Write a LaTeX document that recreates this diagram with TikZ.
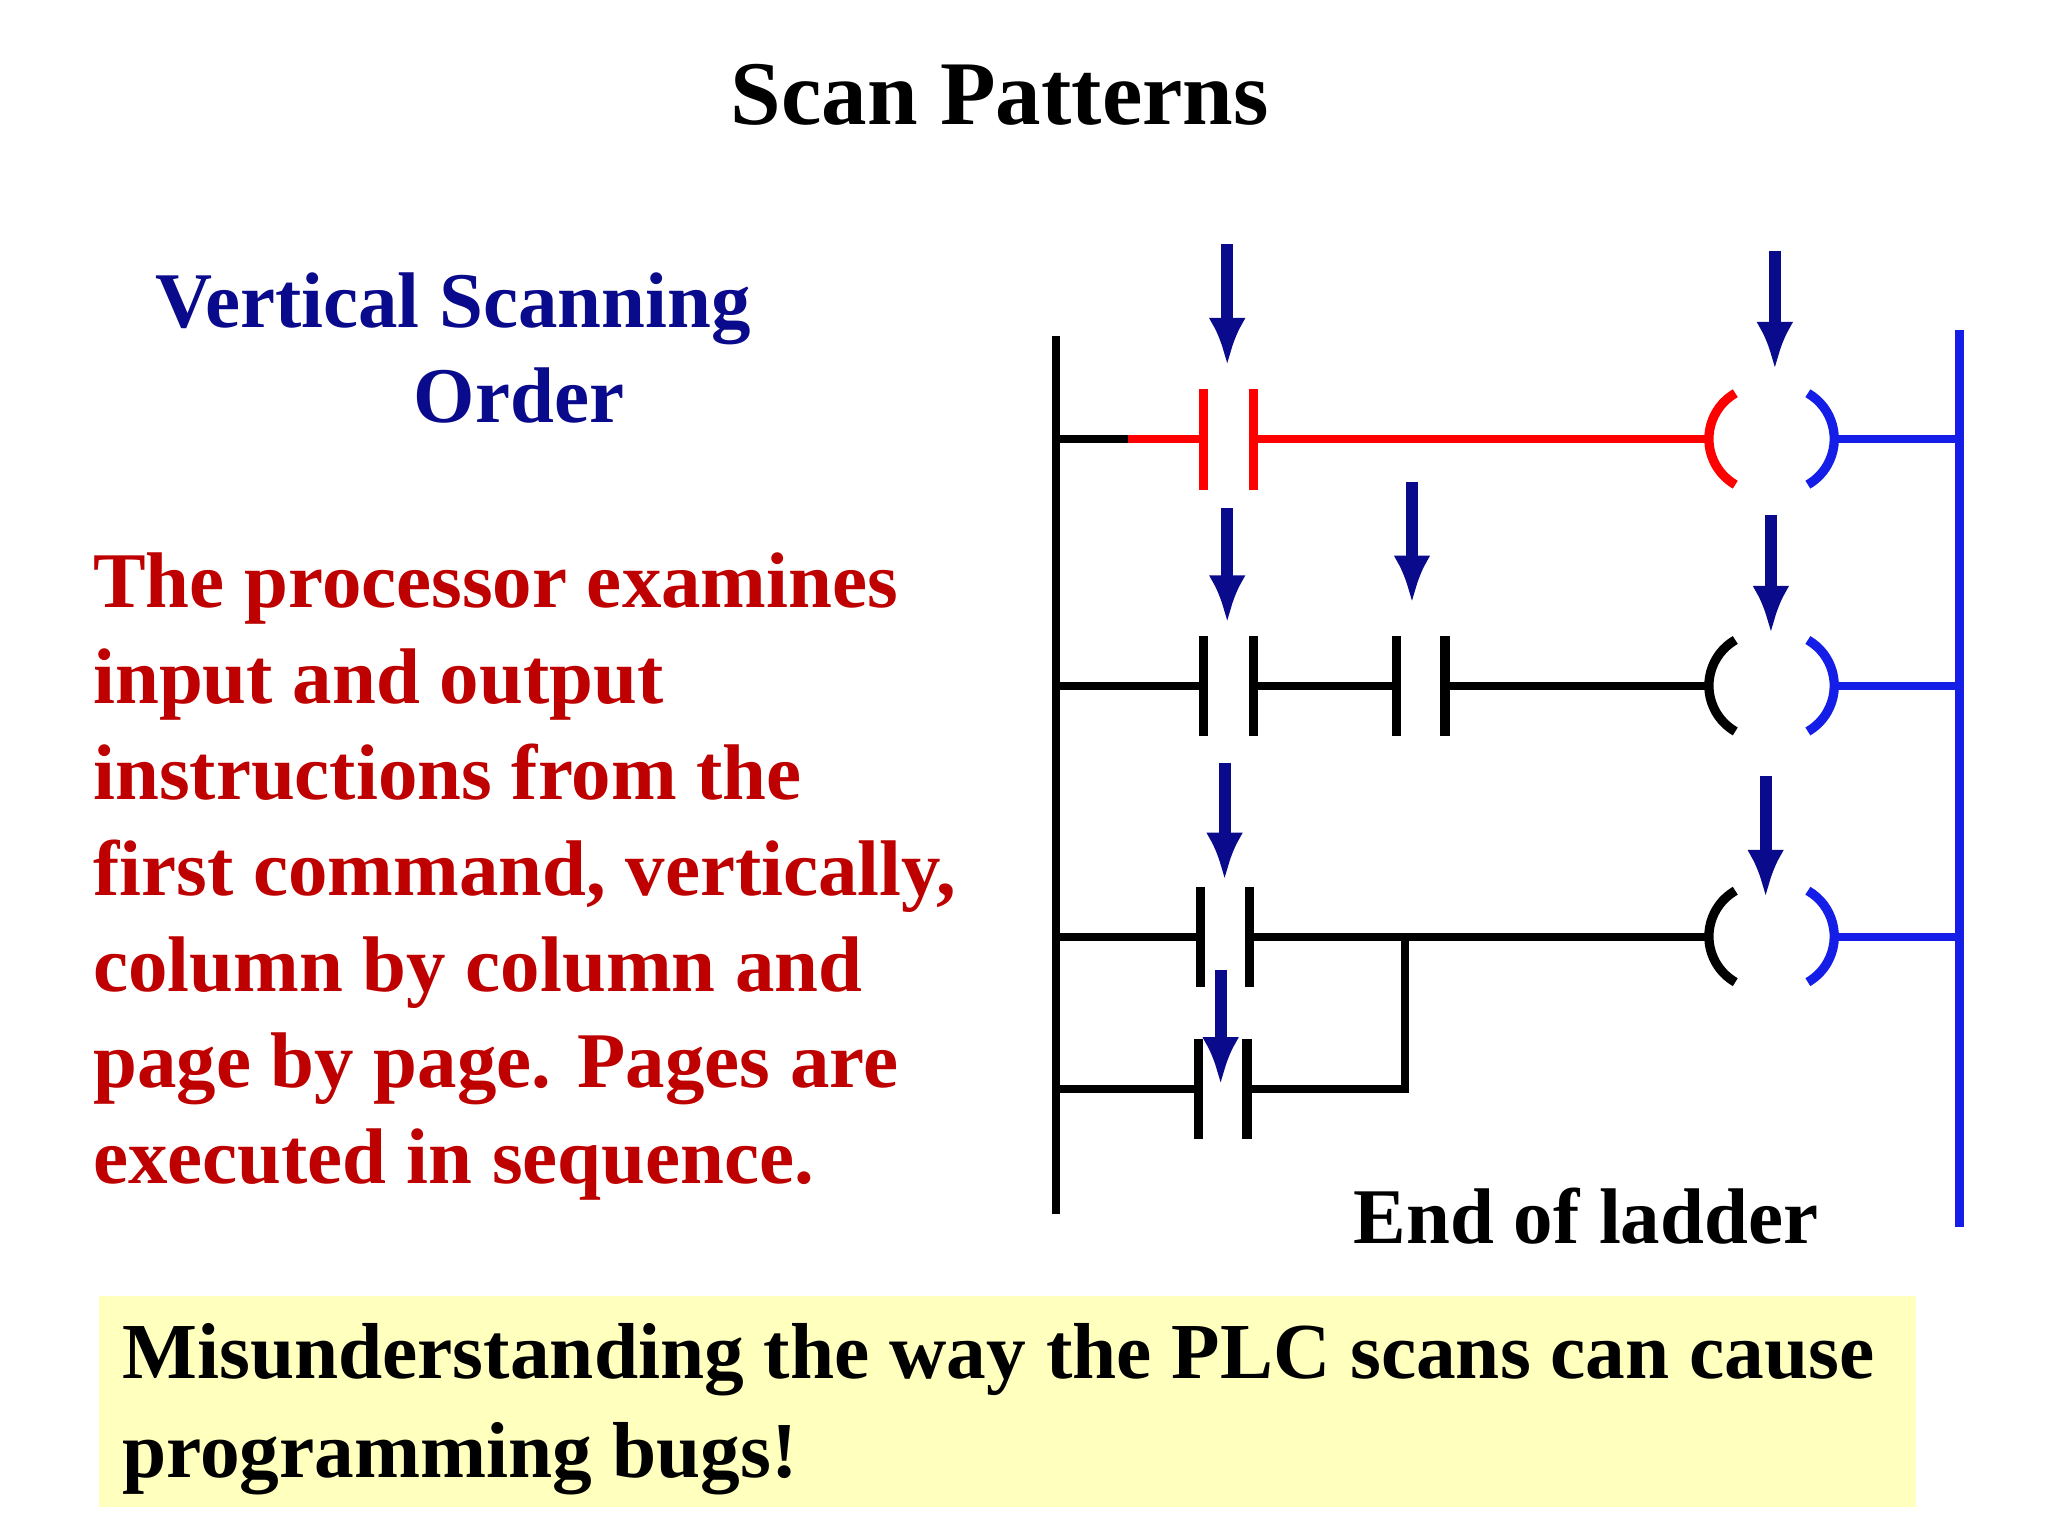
\documentclass[tikz,border=0pt]{standalone}
\usepackage{fontspec}
\usetikzlibrary{arrows.meta}
\setmainfont{Liberation Serif}
\begin{document}
\begin{tikzpicture}[x=0.01cm,y=-0.01cm,
  wire/.style={line width=1.7pt},
  plate/.style={line width=2pt},
  arr/.style={-{Latex[length=0.36cm,width=0.28cm]}, line width=2.6pt, draw=navy},
  txt/.style={font=\bfseries, anchor=base west, inner sep=0}]
\definecolor{navy}{RGB}{10,10,140}
\definecolor{dred}{RGB}{190,0,0}
\definecolor{lblue}{RGB}{20,30,230}
\definecolor{yel}{RGB}{255,255,190}
\useasboundingbox (0,0) rectangle (1552,1164);
\node[txt, font=\bfseries\fontsize{19.6}{24}\selectfont] (title) at (553,94) {Scan Patterns};
\node[txt, text=navy, font=\bfseries\fontsize{17}{20}\selectfont] (h1) at (117,248) {Vertical Scanning};
\node[txt, text=navy, font=\bfseries\fontsize{17}{20}\selectfont] (h2) at (313,320) {Order};
\node[txt, text=dred, font=\bfseries\fontsize{17}{20.7}\selectfont, align=left] (body) at (70,897)
 {The processor examines\\input and output\\instructions from the\\first command, vertically,\\column by column and\\page by page. Pages are\\executed in sequence.};
\node[txt, font=\bfseries\fontsize{17}{20}\selectfont] (end) at (1025,942) {End of ladder};
\fill[yel] (75,982) rectangle (1452,1142);
\node[txt, font=\bfseries\fontsize{17.1}{21.5}\selectfont, align=left] (mis) at (92,1120)
 {Misunderstanding the way the PLC scans can cause\\programming bugs!};
% rails
\draw[wire] (800,255) -- (800,920);
\draw[plate, lblue] (1485,250) -- (1485,930);
% rung 1
\draw[wire] (800,333) -- (855,333);
\draw[wire, red] (855,333) -- (912,333) (950,333) -- (1297,333);
\draw[plate, red] (912,295) -- (912,371) (950,295) -- (950,371);
\draw[plate, red] (1315,298) arc (-120:-240:40);
\draw[plate, lblue] (1370,298) arc (-60:60:40);
\draw[wire, lblue] (1390,333) -- (1485,333);
% rung 2
\draw[wire] (800,520) -- (912,520) (950,520) -- (1058,520) (1095,520) -- (1297,520);
\draw[plate] (912,482) -- (912,558) (950,482) -- (950,558) (1058,482) -- (1058,558) (1095,482) -- (1095,558);
\draw[plate] (1315,485) arc (-120:-240:40);
\draw[plate, lblue] (1370,485) arc (-60:60:40);
\draw[wire, lblue] (1390,520) -- (1485,520);
% rung 3
\draw[wire] (800,710) -- (910,710) (947,710) -- (1297,710);
\draw[plate] (910,672) -- (910,748) (947,672) -- (947,748);
\draw[plate] (1315,675) arc (-120:-240:40);
\draw[plate, lblue] (1370,675) arc (-60:60:40);
\draw[wire, lblue] (1390,710) -- (1485,710);
% rung 4 (branch)
\draw[wire] (800,825) -- (908,825) (945,825) -- (1065,825) -- (1065,710);
\draw[plate] (908,787) -- (908,863) (945,787) -- (945,863);
% arrows
\draw[arr] (930,185) -- (930,277);
\draw[arr] (1345,190) -- (1345,280);
\draw[arr] (930,385) -- (930,472);
\draw[arr] (1070,365) -- (1070,457);
\draw[arr] (1342,390) -- (1342,480);
\draw[arr] (928,578) -- (928,667);
\draw[arr] (1338,588) -- (1338,680);
\draw[arr] (925,735) -- (925,822);
\end{tikzpicture}
\end{document}
